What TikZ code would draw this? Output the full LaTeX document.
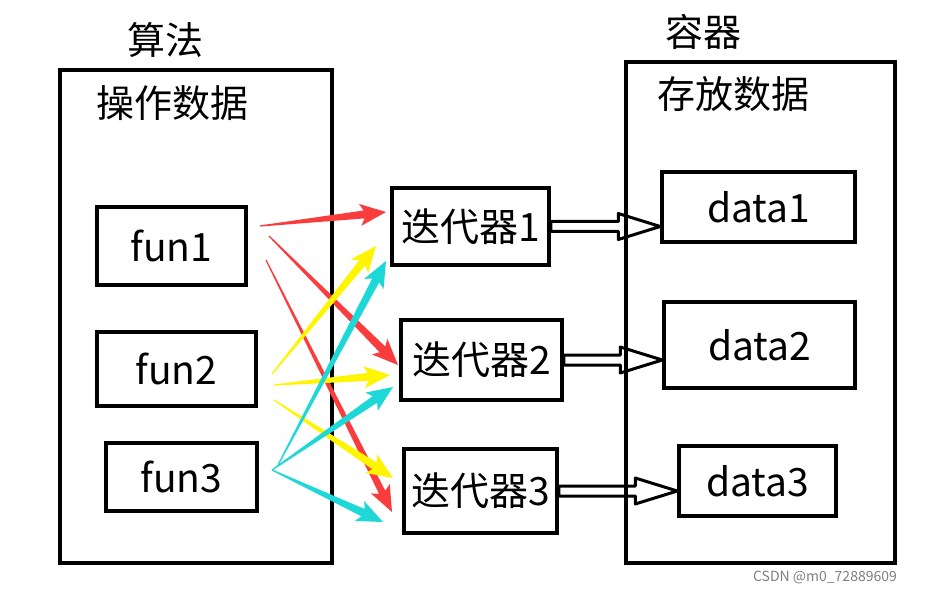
\documentclass[tikz,border=0pt]{standalone}
\usepackage{fontspec}
\setmainfont{Noto Sans CJK SC}
\usetikzlibrary{calc}
\tikzset{
  box/.style={draw=black, line width=3.5pt, inner sep=0pt, font=\fontsize{39}{42}\selectfont},
  lbl/.style={inner sep=0pt, font=\fontsize{38}{42}\selectfont},
}
\definecolor{ared}{RGB}{250,60,60}
\definecolor{ayel}{RGB}{255,245,0}
\definecolor{acyan}{RGB}{30,215,215}
\newcommand\tarrow[4]{%
  \fill[#1] let \p1=($(#3)-(#2)$), \n1={veclen(\x1,\y1)}, \n2={atan2(\y1,\x1)} in
   [shift={(#2)}, rotate=\n2] (0,0.6) -- (\n1-22,#4) -- (\n1-26,#4+7) -- (\n1,0) -- (\n1-26,-#4-7) -- (\n1-22,-#4) -- (0,-0.6) -- cycle;}
\newcommand\harrow[2]{%
  \draw[line width=3pt, line join=round] let \p1=(#1), \p2=(#2) in
   (\x1,\y1-5) -- (\x2-42,\y1-5) -- (\x2-42,\y1-13) -- (\x2,\y1) -- (\x2-42,\y1+13) -- (\x2-42,\y1+5) -- (\x1,\y1+5) -- cycle;}
\begin{document}
\begin{tikzpicture}[x=1pt,y=-1pt]
\useasboundingbox[fill=white] (0,0) rectangle (928,593);
\draw[line width=3.5pt] (60,70) rectangle (332,563);
\draw[line width=3.5pt] (626,62) rectangle (895,563);
\node[lbl] (t1) at (165,40) {算法};
\node[lbl] (t2) at (172,103) {操作数据};
\node[lbl] (t3) at (703,32) {容器};
\node[lbl] (t4) at (733,94) {存放数据};
\node[box, minimum width=149pt, minimum height=78pt] (f1) at (171.5,246) {fun1};
\node[box, minimum width=159pt, minimum height=74pt] (f2) at (176.5,369) {fun2};
\node[box, minimum width=151pt, minimum height=68pt] (f3) at (181.5,477) {fun3};
\node[box, minimum width=157pt, minimum height=77pt] (i1) at (470.5,226.5) {迭代器1};
\node[box, minimum width=161pt, minimum height=80pt] (i2) at (481.5,360) {迭代器2};
\node[box, minimum width=153pt, minimum height=84pt] (i3) at (480.5,491) {迭代器3};
\node[box, minimum width=193pt, minimum height=70pt] (d1) at (758.5,207) {data1};
\node[box, minimum width=191pt, minimum height=86pt] (d2) at (759.5,345) {data2};
\node[box, minimum width=157pt, minimum height=70pt] (d3) at (757.5,481) {data3};
\node[inner sep=0pt, text=gray, font=\fontsize{14}{16}\selectfont] (wm) at (825,577) {CSDN @m0\_72889609};
% arrow endpoints
\coordinate (r1a) at (260,226); \coordinate (r1b) at (386,212);
\coordinate (r2a) at (269,236); \coordinate (r2b) at (398,365);
\coordinate (r3a) at (266,260); \coordinate (r3b) at (392,512);
\coordinate (y1a) at (272,374); \coordinate (y1b) at (376,246);
\coordinate (y2a) at (274,385); \coordinate (y2b) at (390,375);
\coordinate (y3a) at (274,400); \coordinate (y3b) at (393,478);
\coordinate (c1a) at (278,465); \coordinate (c1b) at (386,261);
\coordinate (c2a) at (272,470); \coordinate (c2b) at (393,387);
\coordinate (c3a) at (272,470); \coordinate (c3b) at (383,522);
\tarrow{ared}{r3a}{r3b}{3.5}
\tarrow{ared}{r2a}{r2b}{4}
\tarrow{ared}{r1a}{r1b}{4}
\tarrow{ayel}{y1a}{y1b}{4}
\tarrow{ayel}{y2a}{y2b}{4}
\tarrow{ayel}{y3a}{y3b}{4}
\tarrow{acyan}{c1a}{c1b}{4}
\tarrow{acyan}{c2a}{c2b}{4}
\tarrow{acyan}{c3a}{c3b}{4}
\harrow{i1.east}{d1.west |- i1.east}
\harrow{i2.east}{d2.west |- i2.east}
\harrow{i3.east}{d3.west |- i3.east}
\end{tikzpicture}
\end{document}
